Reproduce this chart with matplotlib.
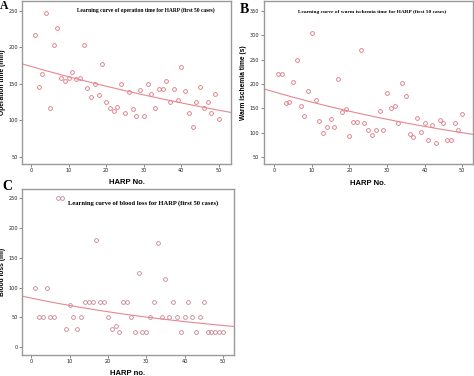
import numpy as np
import matplotlib
matplotlib.use("Agg")
import matplotlib.pyplot as plt

case_no = list(range(1, 51))

operation_time = [216, 145, 163, 247, 116, 203, 226, 158, 154, 158,
                  166, 156, 158, 203, 144, 132, 150, 134, 177, 125,
                  116, 113, 118, 149, 110, 139, 115, 105, 141, 105,
                  149, 136, 116, 143, 142, 153, 125, 143, 128, 173,
                  140, 110, 91, 125, 145, 116, 125, 110, 136, 101]

warm_ischemia = [220, 220, 160, 163, 205, 250, 155, 135, 185, 304,
                 167, 124, 100, 111, 128, 111, 210, 142, 149, 93,
                 122, 122, 269, 121, 105, 95, 105, 145, 105, 182,
                 151, 154, 120, 203, 175, 97, 92, 130, 102, 120,
                 86, 116, 79, 126, 120, 85, 85, 119, 105, 139]

blood_loss = [100, 50, 50, 100, 50, 50, 250, 250, 30, 70,
              50, 30, 50, 75, 75, 75, 180, 75, 75, 50,
              30, 35, 25, 75, 75, 50, 25, 125, 25, 25,
              50, 75, 175, 50, 115, 50, 75, 50, 25, 50,
              75, 50, 25, 50, 75, 25, 25, 25, 25, 25]

titles = ["Learning curve of operation time for HARP (first 50 cases)",
          "Learning curve of warm ischemia time for HARP (first 50 cases)",
          "Learning curve of blood loss for HARP (first 50 cases)"]
ylabels = ["Operation time (min)", "Warm ischemia time (s)", "Blood loss (ml)"]
xlabels = ["HARP No.", "HARP No.", "HARP no."]
letters = ["A", "B", "C"]
yticks_list = [[50, 100, 150, 200, 250],
               [50, 100, 150, 200, 250, 300, 350],
               [0, 50, 100, 150, 200, 250]]
xticks = [0, 10, 20, 30, 40, 50]

W, H = 474, 376
fig = plt.figure(figsize=(W / 100, H / 100), dpi=100)

def rect(l, t, r, b):
    return [l / W, 1 - b / H, (r - l) / W, (b - t) / H]

rects = [rect(22, 1, 231, 164), rect(263.5, 1, 473, 164), rect(22, 189, 234, 355)]
xlims = [(-2.4, 53.2), (-2.9, 52.9), (-2.4, 52.9)]
ylims = [(40, 263), (36, 370), (-13, 265)]
datas = [operation_time, warm_ischemia, blood_loss]
pt_colors = ["#e2727e", "#e2727e", "#c9838f"]
title_sizes = [4.0, 3.9, 4.7]
title_pos = [(146 / W, 10 / H), (372 / W, 12 / H), (143 / W, 203 / H)]
letter_pos = [(0 / W, 0 / H), (240 / W, 3 / H), (2 / W, 180 / H)]
letter_sizes = [8.5, 10, 10]
ylabel_x = [6, 247, 6]
xlabel_y = [179, 180, 370]

x = np.array(case_no, dtype=float)
for i in range(3):
    ax = fig.add_axes(rects[i])
    r = rects[i]
    y = np.array(datas[i], dtype=float)
    ax.plot(x, y, linestyle="none", marker="o", markersize=2.7,
            markerfacecolor="none", markeredgecolor=pt_colors[i],
            markeredgewidth=0.6)
    b, a = np.polyfit(x, np.log(y), 1)
    xf = np.linspace(xlims[i][0], xlims[i][1], 200)
    ax.plot(xf, np.exp(a + b * xf), color="#e58890", linewidth=0.8)
    ax.set_xlim(*xlims[i])
    ax.set_ylim(*ylims[i])
    ax.set_xticks(xticks)
    ax.set_yticks(yticks_list[i])
    ax.tick_params(labelsize=3.6, length=2, width=0.5, color="#555555",
                   pad=1, labelcolor="#222222")
    for s in ax.spines.values():
        s.set_color("#9a9a9a")
        s.set_linewidth(1.0)
    ax.set_xlabel(xlabels[i], fontsize=5.5, fontweight="bold",
                  family="Liberation Sans")
    ax.set_ylabel(ylabels[i], fontsize=4.8, fontweight="bold",
                  family="Liberation Sans")
    lx = (ylabel_x[i] / W - r[0]) / r[2]
    ax.yaxis.set_label_coords(lx, 0.5)
    ly = ((1 - xlabel_y[i] / H) - r[1]) / r[3]
    ax.xaxis.set_label_coords(0.5, ly)
    fig.text(title_pos[i][0], 1 - title_pos[i][1], titles[i],
             fontsize=title_sizes[i], fontweight="bold",
             family="Liberation Serif", ha="center", va="center")
    fig.text(letter_pos[i][0], 1 - letter_pos[i][1], letters[i],
             fontsize=letter_sizes[i], fontweight="bold",
             family="Liberation Serif", ha="left", va="top")

fig.savefig("out.png", dpi=100)
